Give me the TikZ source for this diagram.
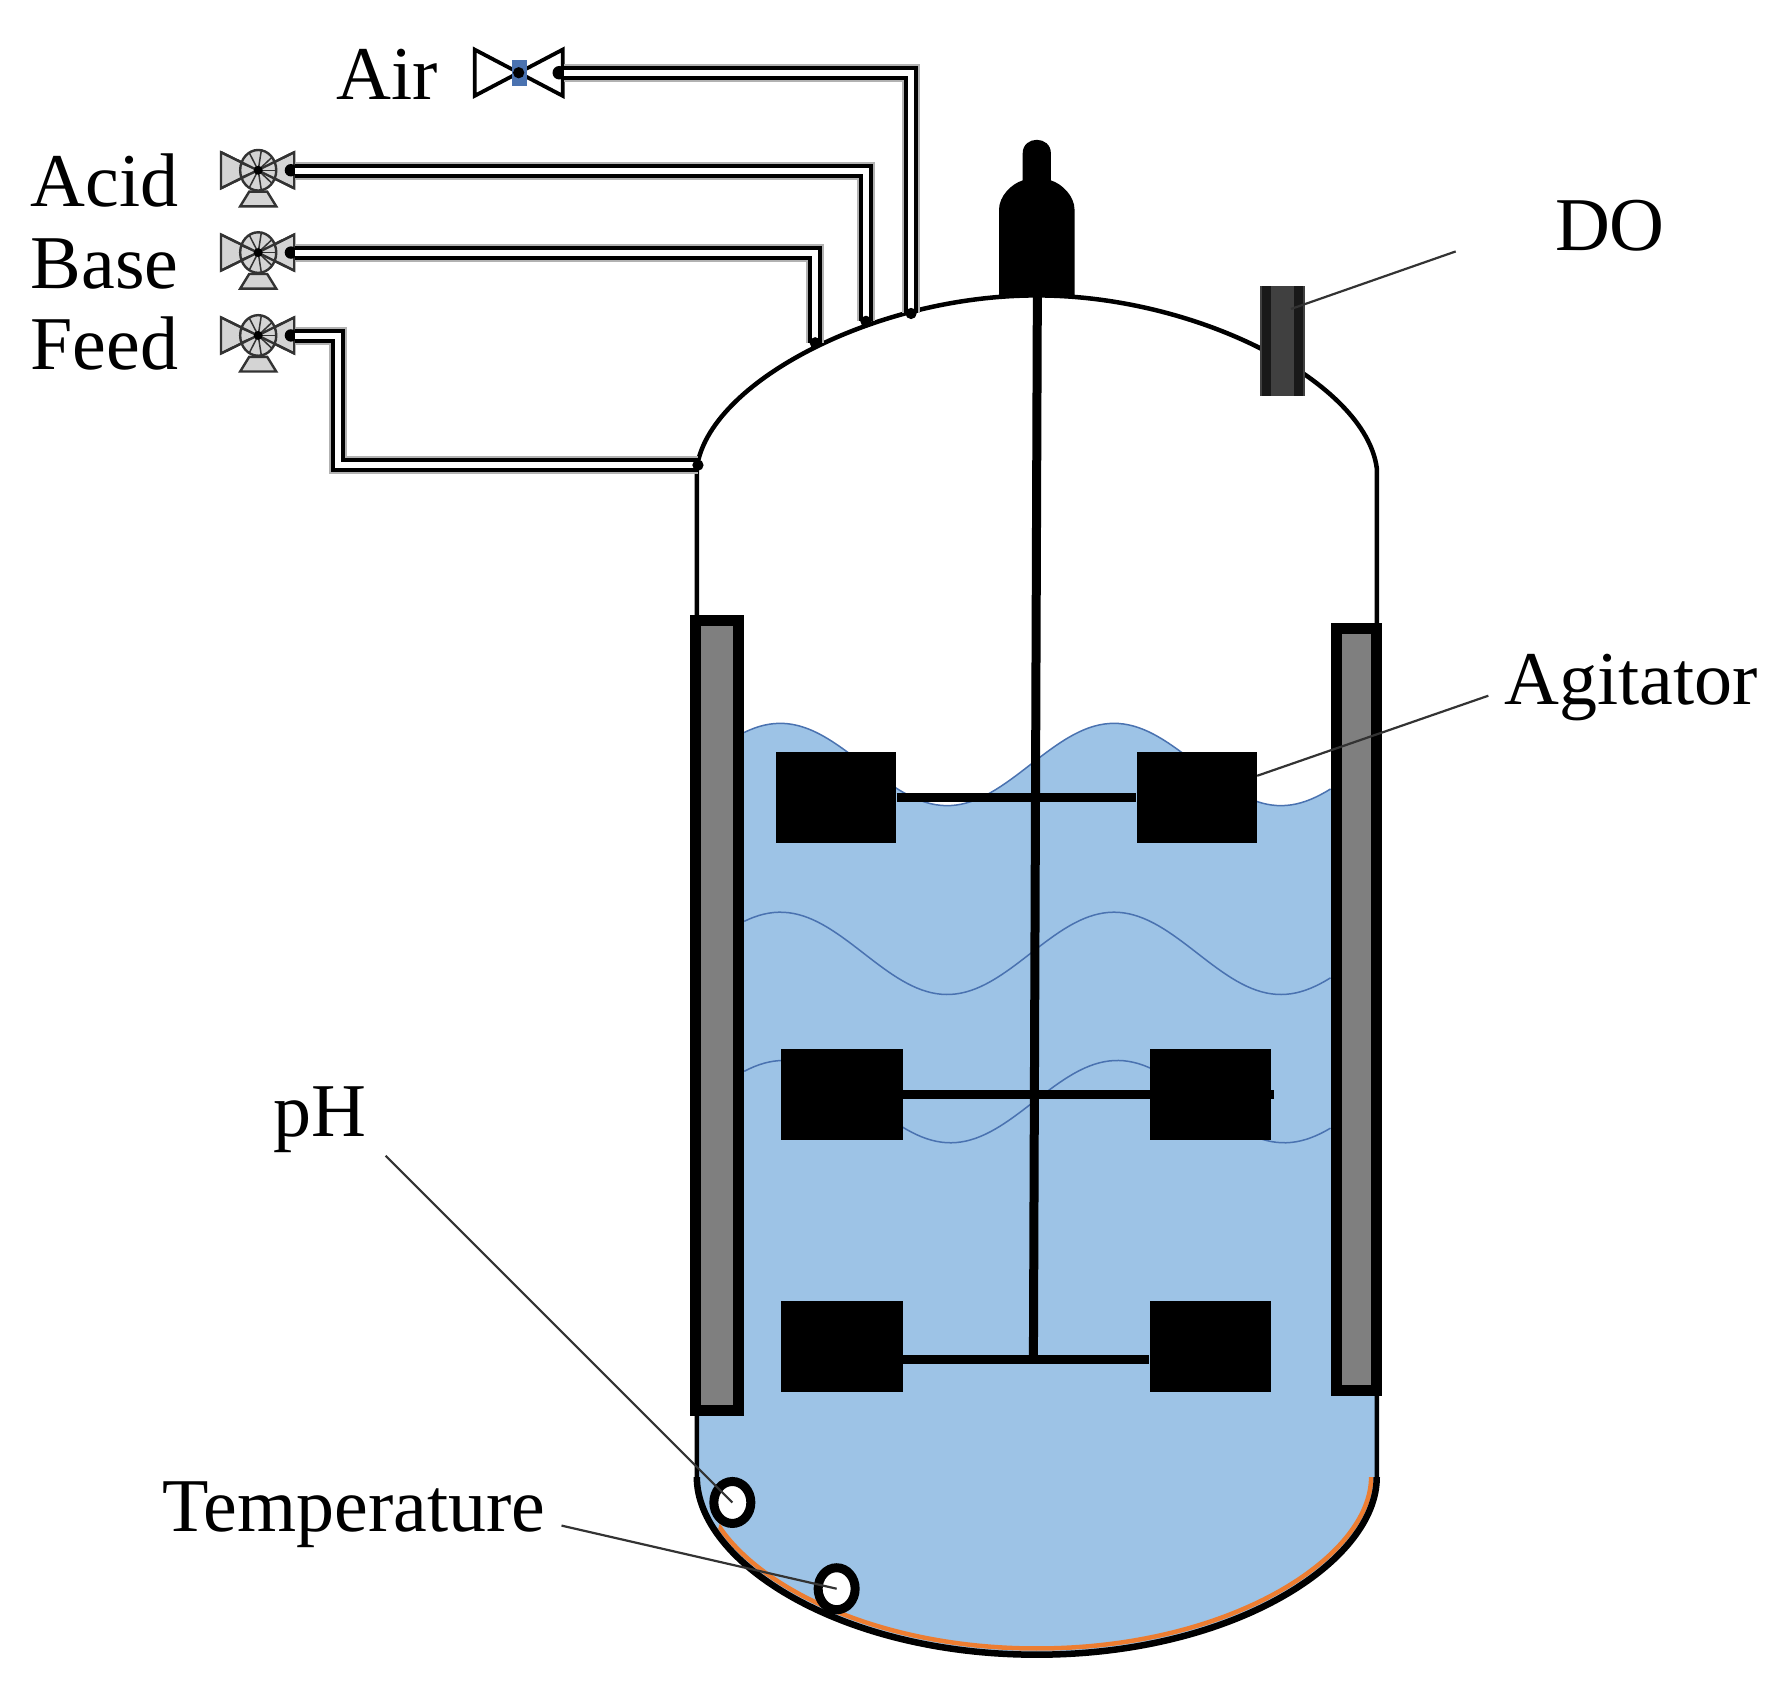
\documentclass[tikz,border=0pt]{standalone}
\usepackage{fontspec}
\setmainfont{Liberation Serif}
\usetikzlibrary{shapes.geometric}
\definecolor{liquid}{HTML}{9DC3E6}
\definecolor{wave}{HTML}{4A72B0}
\definecolor{flange}{HTML}{ED7D31}
\definecolor{baffle}{HTML}{7F7F7F}
\definecolor{valvegray}{HTML}{D4D4D4}
\tikzset{
  lbl/.style={anchor=base west,inner sep=0pt,font=\fontsize{76}{80}\selectfont},
  wall/.style={black,line width=4.5pt},
  wavy/.style={wave,line width=1.5pt},
  blade/.style={fill=black,draw=none},
  bar/.style={black,line width=9pt},
  baf/.style={fill=baffle,draw=black,line width=11pt},
  lead/.style={draw=black!80,line width=2.2pt},
  pipehalo/.style={draw=black!30,line width=6pt,double=white,double distance=6pt},
  pipe/.style={draw=black,line width=4pt,double=white,double distance=6pt},
  port/.style={fill=black},
  vbox/.style={inner sep=0pt,minimum width=73pt,minimum height=36pt},
  abox/.style={inner sep=0pt,minimum width=90pt,minimum height=52pt},
  sensor/.style={ellipse,draw=black,fill=white,line width=9pt,inner sep=0pt,minimum width=37pt,minimum height=42pt},
  vline/.style={draw=black!80,line width=2.4pt},
}
\newcommand{\actvalve}[2]{%
\begin{scope}[shift={(#1,#2)}]
  \filldraw[vline,fill=valvegray] (-33,-16) -- (32,16) -- (32,-16) -- (-33,16) -- cycle;
  \filldraw[vline,fill=valvegray] (-8,19) -- (8,19) -- (16,32) -- (-16,32) -- cycle;
  \filldraw[vline,fill=valvegray] (0,0) ellipse [x radius=16,y radius=18];
  \foreach \a in {0,40,...,320} \draw[black!80,line width=1.5pt] (0,0) -- ({16*cos(\a)},{18*sin(\a)});
  \draw[vline] (-33,-16) -- (32,16) (32,-16) -- (-33,16);
  \fill[black] (0,0) circle [radius=4];
  \fill[port] (29,0) circle [radius=5.5];
\end{scope}}
\begin{document}
\begin{tikzpicture}[x=1.1276pt,y=-1.1276pt]
\useasboundingbox (0,0) rectangle (1568,1509.4);

% liquid
\fill[liquid] plot[domain=640:1200,samples=120] (\x,{678-36.5*cos((\x-692)/296*360)})
  -- (1221,1240) -- (1221,1310)
  .. controls (1221,1385) and (1094,1467.5) .. (919.5,1467.5)
  .. controls (745,1467.5) and (618,1385) .. (618,1310)
  -- (618,1240) -- cycle;
\draw[wavy] plot[domain=660:1180,samples=120] (\x,{678-36.5*cos((\x-692)/296*360)});
\draw[wavy] plot[domain=660:1180,samples=120] (\x,{845.5-36.5*cos((\x-692)/296*360)});
\draw[wavy] plot[domain=660:1180,samples=120] (\x,{977-36.5*cos((\x-695)/296*360)});

% vessel
\begin{scope}
\clip (640,1345) -- (600,1490) -- (1240,1490) -- (1240,1300) -- (919,1300) -- cycle;
\draw[flange,line width=4.5pt] (1216,1310)
  .. controls (1216,1381) and (1091,1462) .. (919.5,1462)
  .. controls (748,1462) and (623,1381) .. (623,1310);
\end{scope}
\draw[wall] (618,1310) -- (618,415)
  .. controls (628,340) and (775,262) .. (919.5,262)
  .. controls (1064,262) and (1211,340) .. (1221,415) -- (1221,1310);
\draw[black,line width=6.5pt] (1221,1310)
  .. controls (1221,1385) and (1094,1467.5) .. (919.5,1467.5)
  .. controls (745,1467.5) and (618,1385) .. (618,1310);

% baffles
\draw[baf] (617,550) rectangle (655,1251);
\draw[baf] (1185,557) rectangle (1221,1233);

% motor and shaft
\fill[black] (886,262) -- (886,186) .. controls (886,174) and (897,163) .. (907,160)
  -- (907,136) .. controls (907,120) and (932,120) .. (932,136) -- (932,160)
  .. controls (942,163) and (953,174) .. (953,186) -- (953,262) -- cycle;
\coordinate (shaftTop) at (920,262);
\coordinate (shaftEnd) at (916.5,1206);
\draw[bar] (shaftTop) -- (shaftEnd);

% impellers
\node[blade,minimum width=120.6pt,minimum height=91.3pt,inner sep=0pt] (b1l) at (741.5,707.5) {};
\node[blade,minimum width=120.6pt,minimum height=91.3pt,inner sep=0pt] (b1r) at (1061.5,707.5) {};
\node[blade,minimum width=121.8pt,minimum height=91.3pt,inner sep=0pt] (b2l) at (747,970.5) {};
\node[blade,minimum width=121.8pt,minimum height=91.3pt,inner sep=0pt] (b2r) at (1073.5,970.5) {};
\node[blade,minimum width=121.8pt,minimum height=91.3pt,inner sep=0pt] (b3l) at (747,1194) {};
\node[blade,minimum width=121.8pt,minimum height=91.3pt,inner sep=0pt] (b3r) at (1073.5,1194) {};
\coordinate (b2tip) at (1130,970.5);
\coordinate (y1) at (0,707);
\coordinate (y3) at (0,1206);
\draw[bar] (b1l.east |- y1) -- (b1r.west |- y1);
\draw[bar] (b2l.east) -- (b2tip);
\draw[bar] (b3l.east |- y3) -- (b3r.west |- y3);

% DO probe
\node[fill=black!75,draw=none,inner sep=0pt,minimum width=45pt,minimum height=110pt] (doProbe) at (1137.5,302) {};
\fill[black!90] (1119,254) rectangle (1127,351);
\fill[black!90] (1148,254) rectangle (1156,351);

% sensors
\node[sensor] (ph) at (649.5,1332.5) {};
\node[sensor] (tmp) at (742,1409) {};

% valves
\node[abox] (air) at (460,64.5) {};
\node[vbox] (acid) at (229,151.5) {};
\node[vbox] (base) at (229,224.5) {};
\node[vbox] (feed) at (229,298) {};
\filldraw[draw=black,line width=3.8pt,fill=white] (421,44) -- (499,85) -- (499,44) -- (421,85) -- cycle;
\fill[wave] (454,53) rectangle (467,76);
\fill[black] (460,64.5) circle [radius=5];
\fill[port] (496,64.5) circle [radius=6];
\actvalve{229}{151}
\actvalve{229}{224}
\actvalve{229}{297.5}

% pipes
\coordinate (pAir) at (808,278);
\coordinate (pAcid) at (768,285);
\coordinate (pBase) at (723,304);
\coordinate (kFeed) at (299.5,412.5);
\coordinate (pFeed) at (619,412.5);
\draw[pipehalo] (air.east) -| (pAir);
\draw[pipehalo] (acid.east) -| (pAcid);
\draw[pipehalo] (base.east) -| (pBase);
\draw[pipehalo] (feed.east) -| (kFeed) -- (pFeed);
\draw[pipe] (air.east) -| (pAir);
\draw[pipe] (acid.east) -| (pAcid);
\draw[pipe] (base.east) -| (pBase);
\draw[pipe] (feed.east) -| (kFeed) -- (pFeed);
\foreach \p in {pAir,pAcid,pBase,pFeed} \fill[port] (\p) circle [radius=5];

% labels
\node[lbl] (lAir) at (298,88) {Air};
\node[lbl] (lAcid) at (27,183) {Acid};
\node[lbl] (lBase) at (27,256) {Base};
\node[lbl] (lFeed) at (27,328) {Feed};
\node[lbl] (lDO) at (1379,222) {DO};
\node[lbl] (lAgi) at (1334,625) {Agitator};
\node[lbl] (lpH) at (242,1008) {pH};
\node[lbl] (lTemp) at (144,1358) {Temperature};

% leader lines
\coordinate (dDO) at (1291,223);
\coordinate (eDO) at (1145,274);
\coordinate (dAgi) at (1320,617);
\coordinate (eAgi) at (1115,688);
\coordinate (dpH) at (342,1025);
\coordinate (dTemp) at (498,1353);
\draw[lead] (dDO) -- (eDO);
\draw[lead] (dAgi) -- (eAgi);
\draw[lead] (dpH) -- (ph.center);
\draw[lead] (dTemp) -- (tmp.center);
\end{tikzpicture}
\end{document}
